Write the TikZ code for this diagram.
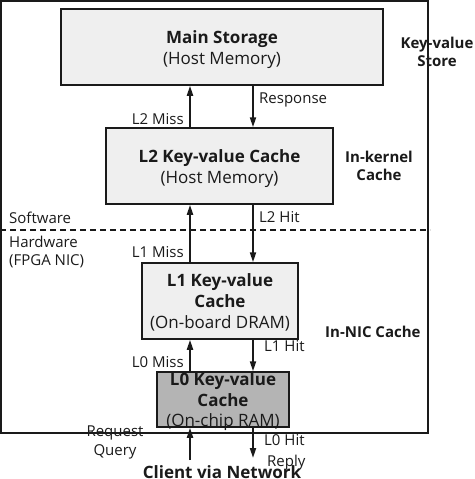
\documentclass[tikz,border=0pt]{standalone}
\usepackage{fontspec}
\setmainfont{Open Sans}
\usetikzlibrary{arrows.meta}
\definecolor{boxfill}{HTML}{EFEFEF}
\definecolor{darkfill}{HTML}{B4B4B4}
\definecolor{ink}{HTML}{1A1A1A}
\tikzset{
  cachebox/.style={draw=ink, line width=1.5pt, fill=boxfill, inner sep=0pt},
  boxtext/.style={inner sep=0pt, anchor=base, text=ink, font=\fontsize{17}{20}\selectfont},
  boxbold/.style={boxtext, font=\fontsize{17}{20}\selectfont\bfseries},
  lbl/.style={inner sep=0pt, text=ink, font=\fontsize{15}{18}\selectfont},
  side/.style={inner sep=0pt, anchor=base, text=ink, font=\fontsize{15}{18}\selectfont\bfseries},
  arr/.style={draw=ink, line width=1.8pt, -{Triangle[width=6pt,length=10pt]}},
}
\begin{document}
\begin{tikzpicture}[x=1pt,y=-1pt]
\useasboundingbox (0,0) rectangle (474,479);
% frame
\draw[ink, line width=2pt] (1,1) rectangle (428,433);
\draw[ink, line width=2pt, dash pattern=on 6pt off 4pt] (0,230) -- (430,230);
% boxes
\node[cachebox, minimum width=322pt, minimum height=76pt] (main) at (222,47) {};
\node[cachebox, minimum width=227pt, minimum height=76pt] (l2) at (219.5,166) {};
\node[cachebox, minimum width=156pt, minimum height=76pt] (l1) at (220,301) {};
\node[cachebox, fill=darkfill, minimum width=132pt, minimum height=55pt] (l0) at (223,399.5) {};
% box texts
\node[boxbold] (mainA) at (222,43) {Main Storage};
\node[boxtext] (mainB) at (222,64) {(Host Memory)};
\node[boxbold] (l2A) at (219.5,162) {L2 Key-value Cache};
\node[boxtext] (l2B) at (219.5,183) {(Host Memory)};
\node[boxbold] (l1A) at (220,286.5) {L1 Key-value};
\node[boxbold] (l1B) at (220,307.5) {Cache};
\node[boxtext] (l1C) at (220,328) {(On-board DRAM)};
\node[boxbold] (l0A) at (223,385.5) {L0 Key-value};
\node[boxbold] (l0B) at (223,406) {Cache};
\node[boxtext] (l0C) at (223,426) {(On-chip RAM)};
\node[boxbold] (client) at (222,478) {Client via Network};
% side labels
\node[side] (kvA) at (437,48) {Key-value};
\node[side] (kvB) at (437,66) {Store};
\node[side] (ikA) at (379,162) {In-kernel};
\node[side] (ikB) at (379,180) {Cache};
\node[side, anchor=base west] (nic) at (325,337) {In-NIC Cache};
\node[lbl, anchor=base west] (sw) at (9,223) {Software};
\node[lbl, anchor=base west] (hw) at (9,247) {Hardware};
\node[lbl, anchor=base west] (fpga) at (9,265) {(FPGA NIC)};
% arrow columns
\coordinate (ux) at (190,0);
\coordinate (dx) at (253,0);
\draw[arr] (ux |- l2.north) -- (ux |- main.south);
\draw[arr] (dx |- main.south) -- (dx |- l2.north);
\draw[arr] (ux |- l1.north) -- (ux |- l2.south);
\draw[arr] (dx |- l2.south) -- (dx |- l1.north);
\draw[arr] (ux |- l0.north) -- (ux |- l1.south);
\draw[arr] (dx |- l1.south) -- (dx |- l0.north);
\coordinate (cup) at (190,460);
\coordinate (cdn) at (253,458);
\draw[arr] (cup) -- (ux |- l0.south);
\draw[arr] (dx |- l0.south) -- (cdn);
% arrow labels
\node[lbl, anchor=base east] (l2m) at (184,124) {L2 Miss};
\node[lbl, anchor=base west] (resp) at (259,103) {Response};
\node[lbl, anchor=base west] (l2h) at (259,222) {L2 Hit};
\node[lbl, anchor=base east] (l1m) at (184,257) {L1 Miss};
\node[lbl, anchor=base west] (l1h) at (264,351) {L1 Hit};
\node[lbl, anchor=base east] (l0m) at (184,367) {L0 Miss};
\node[lbl, anchor=base west] (l0h) at (264,445) {L0 Hit};
\node[lbl, anchor=base west] (reply) at (267,466.5) {Reply};
\node[lbl, anchor=base] (req) at (115,436.5) {Request};
\node[lbl, anchor=base] (query) at (115,455) {Query};
\end{tikzpicture}
\end{document}
